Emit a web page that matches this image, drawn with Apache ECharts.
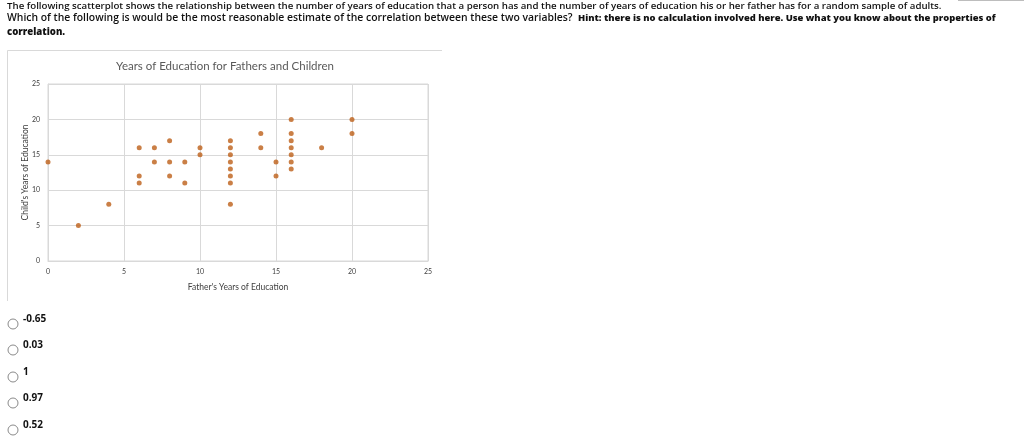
<!DOCTYPE html>
<html>
<head>
<meta charset="utf-8">
<script src="https://cdn.jsdelivr.net/npm/echarts@6/dist/echarts.min.js"></script>
<style>
html,body{margin:0;padding:0;background:#fff;}
#chart{width:1024px;height:448px;}
</style>
</head>
<body>
<div id="chart"></div>
<script>
// ---- data ----
const chartTitle = 'Years of Education for Fathers and Children';
const xAxisName = "Father's Years of Education";
const yAxisName = "Child's Years of Education";
const fatherYears = [0, 2, 4, 6, 6, 6, 7, 7, 8, 8, 8, 9, 9, 10, 10,
  12, 12, 12, 12, 12, 12, 12, 12, 14, 14, 15, 15,
  16, 16, 16, 16, 16, 16, 16, 18, 20, 20];
const childYears = [14, 5, 8, 16, 12, 11, 16, 14, 17, 14, 12, 14, 11, 16, 15,
  17, 16, 15, 14, 13, 12, 11, 8, 18, 16, 14, 12,
  20, 18, 17, 16, 15, 14, 13, 16, 20, 18];
const axisTicks = [0, 5, 10, 15, 20, 25];
const questionLine1 = 'The following scatterplot shows the relationship between the number of years of education that a person has and the number of years of education his or her father has for a random sample of adults.';
const questionLine2a = 'Which of the following is would be the most reasonable estimate of the correlation between these two variables?';
const questionLine2b = 'Hint: there is no calculation involved here. Use what you know about the properties of';
const questionLine3 = 'correlation.';
const answerOptions = ['-0.65', '0.03', '1', '0.97', '0.52'];

// ---- chart ----
const points = fatherYears.map((x, i) => [x, childYears[i]]);
const chart = echarts.init(document.getElementById('chart'));

const headerFont = '"Open Sans", sans-serif';
const graphics = [
  {type: 'line', shape: {x1: 958, y1: 0.5, x2: 1024, y2: 0.5}, style: {stroke: '#bdbdbd', lineWidth: 1}},
  {type: 'line', shape: {x1: 7.5, y1: 50.5, x2: 442, y2: 50.5}, style: {stroke: '#d9d9d9', lineWidth: 1}},
  {type: 'line', shape: {x1: 7.5, y1: 50.5, x2: 7.5, y2: 301}, style: {stroke: '#d9d9d9', lineWidth: 1}},
  {type: 'text', left: 7, top: 1, style: {text: questionLine1, font: '600 9.7px ' + headerFont, fill: '#111'}},
  {type: 'text', left: 7, top: 13.5, style: {text: questionLine2a, font: '600 10.4px ' + headerFont, fill: '#111'}},
  {type: 'text', left: 578, top: 14, style: {text: questionLine2b, font: '800 9.4px ' + headerFont, fill: '#111'}},
  {type: 'text', left: 7, top: 27, style: {text: questionLine3, font: '800 9.6px ' + headerFont, fill: '#111'}}
];
const optYs = [324, 350, 377, 403, 430];
answerOptions.forEach((t, i) => {
  graphics.push({type: 'circle', shape: {cx: 13, cy: optYs[i], r: 5}, style: {fill: '#fff', stroke: '#8a8a8a', lineWidth: 1}});
  graphics.push({type: 'text', left: 23, top: optYs[i] - 10, style: {text: t, font: '700 10px ' + headerFont, fill: '#111'}});
});

chart.setOption({
  animation: false,
  backgroundColor: '#fff',
  title: {
    text: chartTitle,
    left: 220, top: 55, textAlign: 'center',
    textStyle: {fontFamily: 'Lato, sans-serif', fontWeight: 'normal', fontSize: 11.5, color: '#595959'}
  },
  grid: {left: 48, right: 596, top: 84, bottom: 187, show: true, borderColor: '#d9d9d9', borderWidth: 1},
  xAxis: {
    type: 'value', min: axisTicks[0], max: axisTicks[axisTicks.length - 1], interval: 5,
    name: xAxisName, nameLocation: 'middle', nameGap: 22, nameMoveOverlap: false,
    nameTextStyle: {fontFamily: 'Lato, sans-serif', fontSize: 8.5, color: '#404040'},
    axisLine: {show: true, lineStyle: {color: '#d9d9d9'}},
    axisTick: {show: false},
    axisLabel: {fontFamily: 'Lato, sans-serif', fontSize: 7, color: '#404040', margin: 7},
    splitLine: {show: true, lineStyle: {color: '#d9d9d9', width: 1}}
  },
  yAxis: {
    type: 'value', min: axisTicks[0], max: axisTicks[axisTicks.length - 1], interval: 5,
    name: yAxisName, nameLocation: 'middle', nameGap: 18.5, nameRotate: 90, nameMoveOverlap: false,
    nameTextStyle: {fontFamily: 'Lato, sans-serif', fontSize: 8.5, color: '#404040'},
    axisLine: {show: true, lineStyle: {color: '#d9d9d9'}},
    axisTick: {show: false},
    axisLabel: {fontFamily: 'Lato, sans-serif', fontSize: 7, color: '#404040', margin: 8},
    splitLine: {show: true, lineStyle: {color: '#d9d9d9', width: 1}}
  },
  series: [{
    type: 'scatter',
    data: points,
    symbol: 'circle',
    symbolSize: 5,
    itemStyle: {color: '#bd5f18'}
  }],
  graphic: graphics
});
</script>
</body>
</html>
